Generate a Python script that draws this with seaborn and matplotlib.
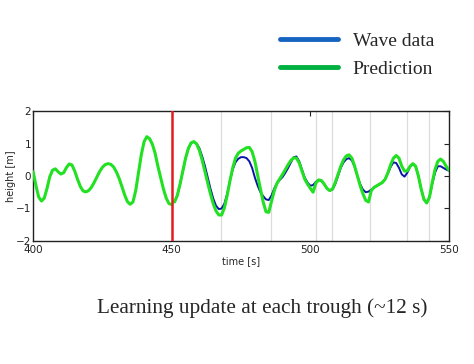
import numpy as np
import pandas as pd
import matplotlib
matplotlib.use("Agg")
import matplotlib.pyplot as plt
from matplotlib.lines import Line2D
import seaborn as sns

# history before the first update (prediction only), 1 s steps
hist_time = np.arange(400, 451)
hist_height = [0.13, -0.3, -0.65, -0.77, -0.68, -0.38, -0.02, 0.18, 0.22, 0.13,
               0.06, 0.1, 0.26, 0.37, 0.34, 0.15, -0.1, -0.32, -0.46, -0.49,
               -0.45, -0.35, -0.2, -0.03, 0.14, 0.27, 0.35, 0.38, 0.36, 0.28,
               0.13, -0.07, -0.32, -0.58, -0.79, -0.87, -0.8, -0.45, 0.1, 0.65,
               1.05, 1.21, 1.15, 0.98, 0.7, 0.3, -0.05, -0.4, -0.68, -0.85,
               -0.88]

# after t = 450 s
time = np.arange(451, 551)
wave = [-0.8, -0.6, -0.25, 0.15, 0.55, 0.85, 1.02, 1.05, 1.0, 0.85,
        0.6, 0.3, -0.05, -0.4, -0.7, -0.92, -1.02, -1.0, -0.85, -0.55,
        -0.15, 0.2, 0.42, 0.53, 0.58, 0.58, 0.55, 0.45, 0.25, -0.05,
        -0.3, -0.5, -0.62, -0.72, -0.74, -0.6, -0.38, -0.22, -0.12, -0.03,
        0.1, 0.25, 0.42, 0.58, 0.6, 0.45, 0.2, -0.05, -0.2, -0.3,
        -0.28, -0.18, -0.12, -0.15, -0.25, -0.38, -0.45, -0.42, -0.25, 0.0,
        0.25, 0.42, 0.52, 0.55, 0.48, 0.28, 0.0, -0.25, -0.42, -0.5,
        -0.48, -0.42, -0.36, -0.3, -0.25, -0.2, -0.1, 0.08, 0.28, 0.42,
        0.4, 0.25, 0.05, -0.02, 0.1, 0.28, 0.37, 0.3, 0.0, -0.4,
        -0.72, -0.83, -0.65, -0.25, 0.1, 0.3, 0.3, 0.25, 0.2, 0.16]
prediction = [-0.8, -0.6, -0.25, 0.15, 0.55, 0.85, 1.02, 1.06, 0.98, 0.78,
              0.48, 0.13, -0.22, -0.56, -0.86, -1.08, -1.2, -1.2, -0.98, -0.6,
              -0.15, 0.25, 0.55, 0.7, 0.77, 0.82, 0.87, 0.88, 0.75, 0.45,
              0.02, -0.4, -0.8, -1.1, -1.12, -0.78, -0.45, -0.22, -0.08, 0.05,
              0.2, 0.35, 0.48, 0.56, 0.55, 0.4, 0.15, -0.1, -0.25, -0.38,
              -0.5, -0.22, -0.12, -0.14, -0.25, -0.38, -0.45, -0.4, -0.2, 0.05,
              0.3, 0.5, 0.62, 0.65, 0.55, 0.3, 0.0, -0.3, -0.55, -0.75,
              -0.8, -0.45, -0.35, -0.3, -0.25, -0.2, -0.1, 0.1, 0.35, 0.55,
              0.63, 0.55, 0.3, 0.15, 0.16, 0.3, 0.38, 0.3, 0.0, -0.4,
              -0.72, -0.83, -0.65, -0.2, 0.2, 0.45, 0.52, 0.45, 0.3, 0.18]

start_time = 450
update_times = [467.8, 485.8, 502.0, 507.7, 521.5, 534.8, 542.8]

hist = pd.DataFrame({"time": hist_time, "height": hist_height})
df = pd.DataFrame({"time": time, "wave": wave, "prediction": prediction})

sns.set_style("white")
plt.rcParams["xtick.direction"] = "in"
plt.rcParams["ytick.direction"] = "in"

fig = plt.figure(figsize=(4.74, 3.64), dpi=100)
ax = fig.add_axes([0.07, 0.338, 0.877, 0.357])

for t in update_times:
    ax.axvline(t, color="#dcdcdc", lw=0.9, zorder=1)

# green prediction drawn over the blue wave data
sns.lineplot(data=hist, x="time", y="height", ax=ax, color="#22e022", lw=2.2, zorder=3)
sns.lineplot(data=df, x="time", y="wave", ax=ax, color="#0a14a8", lw=1.4, zorder=2)
sns.lineplot(data=df, x="time", y="prediction", ax=ax, color="#22e022", lw=2.2, zorder=3)
ax.axvline(start_time, color="#e51c1c", lw=1.8, zorder=4)

ax.set_xlim(400, 550)
ax.set_ylim(-2, 2)
ax.set_xticks([400, 450, 500, 550])
ax.set_yticks([-2, -1, 0, 1, 2])
ax.tick_params(labelsize=7.5, length=3.5, width=0.8, top=True, right=True,
               colors="#222222")
ax.tick_params(axis="x", pad=3)
ax.tick_params(axis="y", pad=1.5)
ax.set_xlabel("time [s]", fontsize=7, labelpad=1)
ax.set_ylabel("height [m]", fontsize=7, labelpad=0)
for s in ax.spines.values():
    s.set_color("#222222")
    s.set_linewidth(1.0)

handles = [Line2D([], [], color="#1565c0", lw=3.5),
           Line2D([], [], color="#00b040", lw=3.5)]
fig.legend(handles, ["Wave data", "Prediction"], loc="center left",
           bbox_to_anchor=(0.59, 0.848), frameon=False, borderpad=0,
           borderaxespad=0, handlelength=3.0, handletextpad=0.75,
           labelspacing=0.55, prop={"family": "Liberation Serif", "size": 14})

fig.text(0.205, 0.154, "Learning update at each trough (~12 s)",
         family="Liberation Serif", fontsize=15.3, ha="left", va="center")

fig.savefig("out.png", dpi=100)
